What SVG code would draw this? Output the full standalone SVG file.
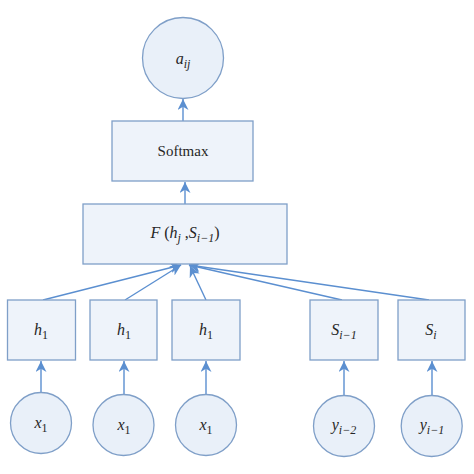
<svg xmlns="http://www.w3.org/2000/svg" width="474" height="474" viewBox="0 0 474 474">
<defs>
<marker id="ah" viewBox="0 0 10 10" refX="10" refY="5" markerWidth="11" markerHeight="11" markerUnits="userSpaceOnUse" orient="auto">
<path d="M0,0 L10,5 L0,10 L3,5 Z" fill="#5b8fd0"/>
</marker>
</defs>
<style>
.box{fill:#eef3fa;stroke:#7f9fc8;stroke-width:1.3}
.circ{fill:#e9f0f9;stroke:#7f9fc8;stroke-width:1.3}
.edge{stroke:#5b8fd0;stroke-width:1.4;fill:none;marker-end:url(#ah)}
.t{font-family:"Liberation Serif",serif;font-size:16px;fill:#262626;text-anchor:middle}
.v{font-style:italic}
.s{font-size:12px}
</style>
<rect width="474" height="474" fill="#ffffff"/>
<g id="connectors">
<line class="edge" x1="183" y1="121" x2="183" y2="99"/>
<line class="edge" x1="185" y1="204" x2="185" y2="182"/>
<line class="edge" x1="43" y1="300" x2="181" y2="265"/>
<line class="edge" x1="125" y1="300" x2="181" y2="265"/>
<line class="edge" x1="206" y1="300" x2="190" y2="266"/>
<line class="edge" x1="342" y1="300" x2="189" y2="265"/>
<line class="edge" x1="429" y1="300" x2="189" y2="265"/>
<line class="edge" x1="41" y1="393" x2="41" y2="361"/>
<line class="edge" x1="124" y1="395" x2="124" y2="361"/>
<line class="edge" x1="206" y1="395" x2="206" y2="361"/>
<line class="edge" x1="344" y1="396" x2="344" y2="361"/>
<line class="edge" x1="432" y1="396" x2="432" y2="361"/>
</g>
<g id="n_a">
<circle class="circ" cx="183" cy="58" r="40.5"/>
<text class="t" x="183" y="64"><tspan class="v">a</tspan><tspan class="v s" dy="4">ij</tspan></text>
</g>
<g id="n_softmax">
<rect class="box" x="112" y="121" width="141" height="60"/>
<text class="t" x="183" y="156" style="font-size:15px">Softmax</text>
</g>
<g id="n_F">
<rect class="box" x="83" y="204" width="204" height="60"/>
<text class="t" x="185" y="238"><tspan class="v">F</tspan> (<tspan class="v">h</tspan><tspan class="v s" dy="4">j</tspan><tspan dy="-4"> ,</tspan><tspan class="v">S</tspan><tspan class="v s" dy="4">i−1</tspan><tspan dy="-4">)</tspan></text>
</g>
<g id="n_h1a">
<rect class="box" x="7.5" y="300" width="68" height="60"/>
<text class="t" x="41" y="335"><tspan class="v">h</tspan><tspan class="s" dy="4">1</tspan></text>
</g>
<g id="n_h1b">
<rect class="box" x="90" y="300" width="67" height="60"/>
<text class="t" x="124" y="335"><tspan class="v">h</tspan><tspan class="s" dy="4">1</tspan></text>
</g>
<g id="n_h1c">
<rect class="box" x="172" y="300" width="68" height="60"/>
<text class="t" x="206" y="335"><tspan class="v">h</tspan><tspan class="s" dy="4">1</tspan></text>
</g>
<g id="n_Si1">
<rect class="box" x="310" y="300" width="68" height="60"/>
<text class="t" x="344" y="335"><tspan class="v">S</tspan><tspan class="v s" dy="4">i−1</tspan></text>
</g>
<g id="n_Si">
<rect class="box" x="398" y="300" width="67" height="60"/>
<text class="t" x="431" y="335"><tspan class="v">S</tspan><tspan class="v s" dy="4">i</tspan></text>
</g>
<g id="n_x1a">
<circle class="circ" cx="41" cy="423" r="30.5"/>
<text class="t" x="41" y="428"><tspan class="v">x</tspan><tspan class="s" dy="4">1</tspan></text>
</g>
<g id="n_x1b">
<circle class="circ" cx="123.5" cy="425" r="30.5"/>
<text class="t" x="124" y="430"><tspan class="v">x</tspan><tspan class="s" dy="4">1</tspan></text>
</g>
<g id="n_x1c">
<circle class="circ" cx="206" cy="425" r="30.5"/>
<text class="t" x="206" y="430"><tspan class="v">x</tspan><tspan class="s" dy="4">1</tspan></text>
</g>
<g id="n_yi2">
<circle class="circ" cx="344" cy="426" r="30.5"/>
<text class="t" x="344" y="430"><tspan class="v">y</tspan><tspan class="v s" dy="4">i−2</tspan></text>
</g>
<g id="n_yi1">
<circle class="circ" cx="431.7" cy="426" r="30.5"/>
<text class="t" x="432" y="430"><tspan class="v">y</tspan><tspan class="v s" dy="4">i−1</tspan></text>
</g>
</svg>
